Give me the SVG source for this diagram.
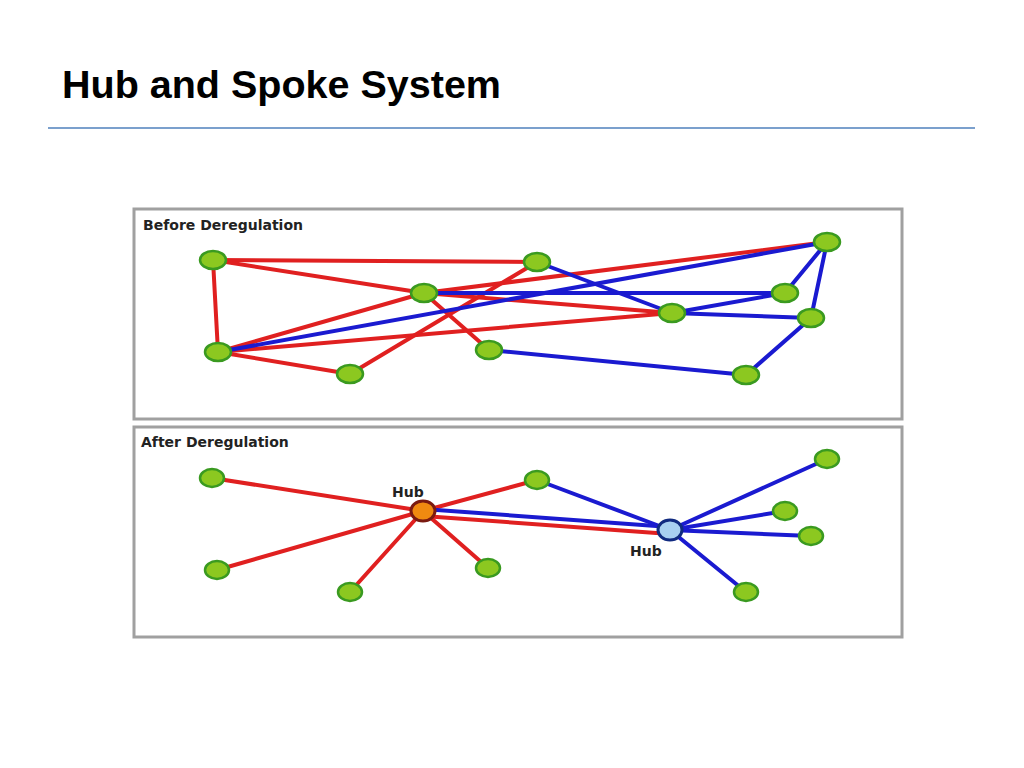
<svg xmlns="http://www.w3.org/2000/svg" width="1024" height="768" viewBox="0 0 1024 768">
<style>
.r{stroke:#e02020;stroke-width:4;stroke-linecap:round}
.b{stroke:#1a1ad0;stroke-width:4;stroke-linecap:round}
.n{fill:#8cc820;stroke:#3a9a20;stroke-width:2.5}
.p{fill:#fff;stroke:#a0a0a0;stroke-width:3}
.lbl{font-family:"DejaVu Sans",sans-serif;font-weight:bold;font-size:14px;fill:#222}
</style>
<rect width="1024" height="768" fill="#fff"/>
<text x="62" y="98" font-family="'Liberation Sans',Arial,sans-serif" font-weight="bold" font-size="39.5" fill="#000">Hub and Spoke System</text>
<line x1="48" y1="128" x2="975" y2="128" stroke="#4f81bd" stroke-width="1.5"/>
<rect class="p" x="134" y="209" width="768" height="210"/>
<rect class="p" x="134" y="427" width="768" height="210"/>
<text class="lbl" x="143" y="230">Before Deregulation</text>
<text class="lbl" x="141" y="447">After Deregulation</text>
<g id="connectors">
<line class="r" x1="213" y1="260" x2="537" y2="262"/>
<line class="r" x1="213" y1="260" x2="424" y2="293"/>
<line class="r" x1="213" y1="260" x2="218" y2="352"/>
<line class="r" x1="218" y1="352" x2="424" y2="293"/>
<line class="r" x1="218" y1="352" x2="672" y2="313"/>
<line class="r" x1="218" y1="352" x2="350" y2="374"/>
<line class="r" x1="350" y1="374" x2="537" y2="262"/>
<line class="r" x1="424" y1="293" x2="489" y2="350"/>
<line class="r" x1="424" y1="293" x2="672" y2="313"/>
<line class="r" x1="424" y1="293" x2="827" y2="242"/>
<line class="b" x1="218" y1="352" x2="827" y2="242"/>
<line class="b" x1="424" y1="293" x2="785" y2="293"/>
<line class="b" x1="537" y1="262" x2="672" y2="313"/>
<line class="b" x1="672" y1="313" x2="785" y2="293"/>
<line class="b" x1="672" y1="313" x2="811" y2="318"/>
<line class="b" x1="827" y1="242" x2="785" y2="293"/>
<line class="b" x1="827" y1="242" x2="811" y2="318"/>
<line class="b" x1="811" y1="318" x2="746" y2="375"/>
<line class="b" x1="489" y1="350" x2="746" y2="375"/>
<line class="r" x1="212" y1="478" x2="423" y2="511"/>
<line class="r" x1="537" y1="480" x2="423" y2="511"/>
<line class="r" x1="217" y1="570" x2="423" y2="511"/>
<line class="r" x1="350" y1="592" x2="423" y2="511"/>
<line class="r" x1="488" y1="568" x2="423" y2="511"/>
<line class="r" x1="423" y1="516" x2="670" y2="534"/>
<line class="b" x1="423" y1="509" x2="670" y2="527"/>
<line class="b" x1="537" y1="480" x2="670" y2="530"/>
<line class="b" x1="827" y1="459" x2="670" y2="530"/>
<line class="b" x1="785" y1="511" x2="670" y2="530"/>
<line class="b" x1="811" y1="536" x2="670" y2="530"/>
<line class="b" x1="746" y1="592" x2="670" y2="530"/>
</g>
<g id="n1"><ellipse class="n" cx="213" cy="260" rx="13" ry="9"/></g>
<g id="n2"><ellipse class="n" cx="537" cy="262" rx="13" ry="9"/></g>
<g id="n3"><ellipse class="n" cx="424" cy="293" rx="13" ry="9"/></g>
<g id="n4"><ellipse class="n" cx="827" cy="242" rx="13" ry="9"/></g>
<g id="n5"><ellipse class="n" cx="785" cy="293" rx="13" ry="9"/></g>
<g id="n6"><ellipse class="n" cx="672" cy="313" rx="13" ry="9"/></g>
<g id="n7"><ellipse class="n" cx="811" cy="318" rx="13" ry="9"/></g>
<g id="n8"><ellipse class="n" cx="218" cy="352" rx="13" ry="9"/></g>
<g id="n9"><ellipse class="n" cx="350" cy="374" rx="13" ry="9"/></g>
<g id="n10"><ellipse class="n" cx="489" cy="350" rx="13" ry="9"/></g>
<g id="n11"><ellipse class="n" cx="746" cy="375" rx="13" ry="9"/></g>
<g id="m1"><ellipse class="n" cx="212" cy="478" rx="12" ry="9"/></g>
<g id="m2"><ellipse class="n" cx="537" cy="480" rx="12" ry="9"/></g>
<g id="m3"><ellipse class="n" cx="217" cy="570" rx="12" ry="9"/></g>
<g id="m4"><ellipse class="n" cx="350" cy="592" rx="12" ry="9"/></g>
<g id="m5"><ellipse class="n" cx="488" cy="568" rx="12" ry="9"/></g>
<g id="m6"><ellipse class="n" cx="827" cy="459" rx="12" ry="9"/></g>
<g id="m7"><ellipse class="n" cx="785" cy="511" rx="12" ry="9"/></g>
<g id="m8"><ellipse class="n" cx="811" cy="536" rx="12" ry="9"/></g>
<g id="m9"><ellipse class="n" cx="746" cy="592" rx="12" ry="9"/></g>
<g id="hub1"><ellipse cx="423" cy="511" rx="12" ry="10" fill="#f08a10" stroke="#7a1a10" stroke-width="3"/><text class="lbl" x="392" y="497" font-size="16">Hub</text></g>
<g id="hub2"><ellipse cx="670" cy="530" rx="12" ry="10" fill="#a8d0f0" stroke="#102a80" stroke-width="3"/><text class="lbl" x="630" y="556" font-size="16">Hub</text></g>
</svg>
